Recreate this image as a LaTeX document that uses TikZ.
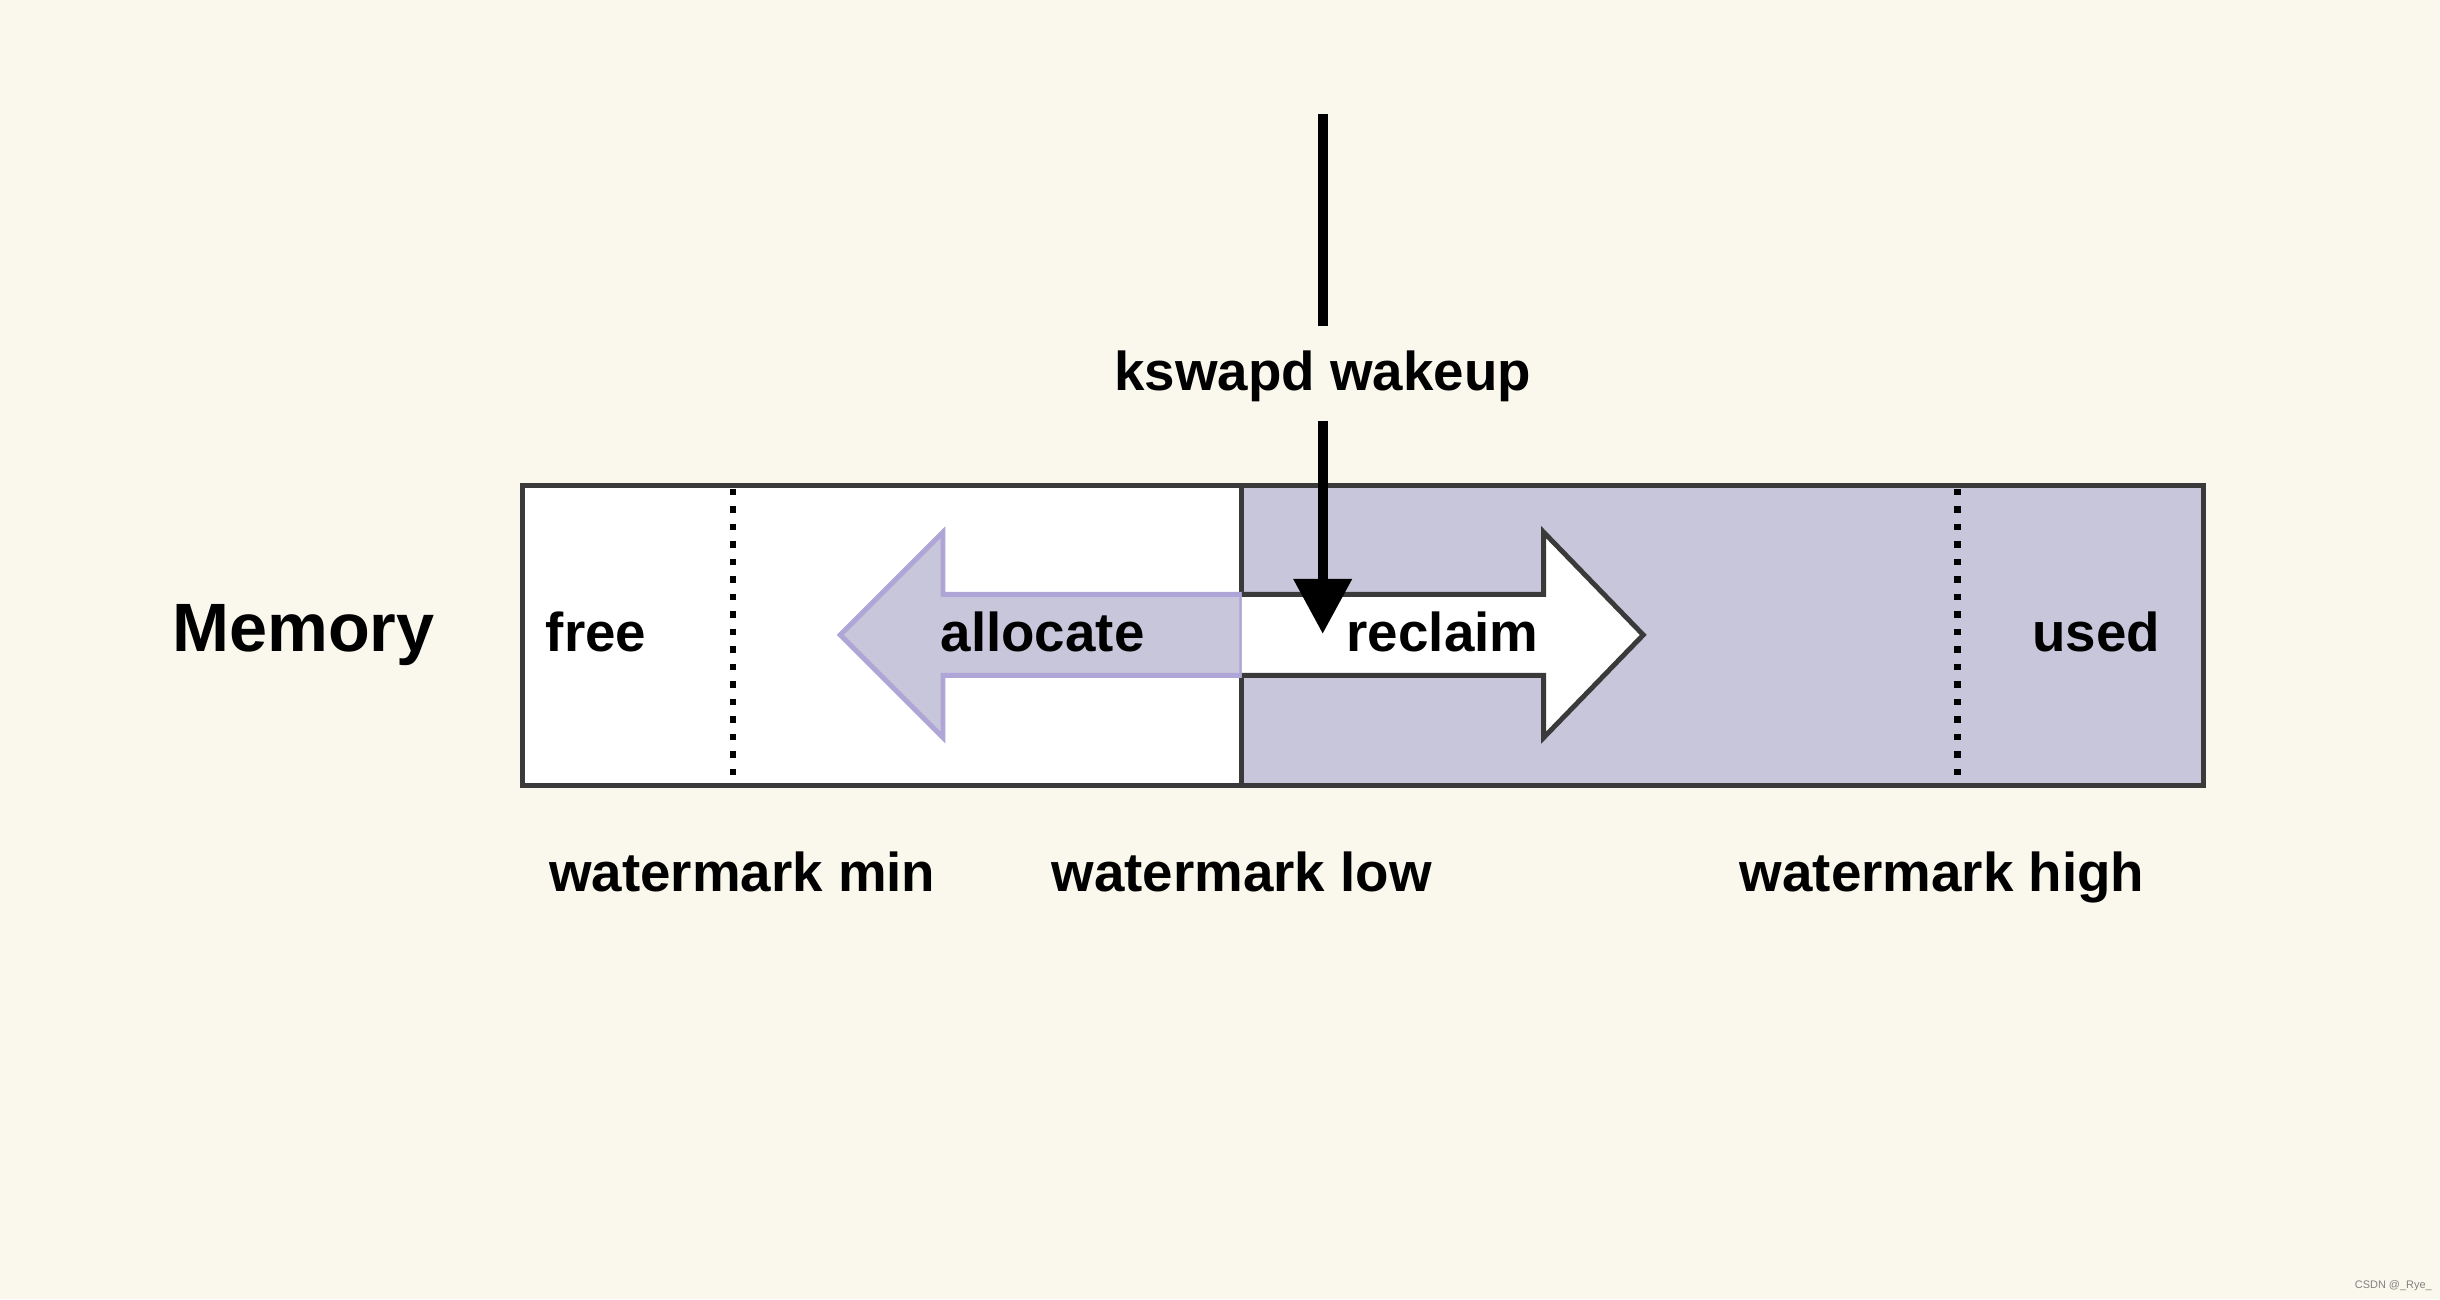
\documentclass[tikz,border=0pt]{standalone}
\usepackage{fontspec}
\setmainfont{Liberation Sans}
\usetikzlibrary{positioning}
\definecolor{bgcream}{HTML}{FAF8EC}
\definecolor{usedfill}{HTML}{C8C6DA}
\definecolor{lavender}{HTML}{AFA5D6}
\definecolor{boxline}{HTML}{3A3A3A}
\tikzset{
  x = 0.01cm,
  y = -0.01cm,
  txt/.style = {font=\fontsize{10}{11}\selectfont\bfseries, inner sep=1pt,
    text height=1.6ex, text depth=0.45ex},
  wmline/.style = {line width=1.2pt, dotted, black},
  frame/.style = {line width=0.9pt, draw=boxline},
}

\begin{document}
\begin{tikzpicture}
    \fill [bgcream] (0,0) rectangle (1568,835);
    \useasboundingbox (0,0) rectangle (1568,835);
    \fill [white] (336,312) rectangle (798,505);
    \fill [usedfill] (798,312) rectangle (1416,505);
    \draw [wmline] (471,314) -- (471,503);
    \draw [wmline] (1258,314) -- (1258,503);
    \draw [frame] (798,312) -- (798,505);
    \draw [frame] (336,312) rectangle (1416,505);
    \draw [line width=0.9pt, draw=lavender, fill=usedfill]
      (798,382) -- (606,382) -- (606,342) -- (540,408) -- (606,474)
      -- (606,434) -- (798,434) -- cycle;
    \draw [frame, fill=white]
      (798,382) -- (992,382) -- (992,342) -- (1056,408) -- (992,474)
      -- (992,434) -- (798,434);
    \node [txt, font=\fontsize{12.5}{14}\selectfont\bfseries] (memory) at (195,408) {Memory};
    \node [txt] (free) at (383,408) {free};
    \node [txt] (alloc) at (670,408) {allocate};
    \node [txt] (reclaim) at (927,408) {reclaim};
    \node [txt] (used) at (1347,408) {used};
    \node [txt] (wmin) at (477,562) {watermark min};
    \node [txt] (wlow) at (798,562) {watermark low};
    \node [txt] (whigh) at (1248,562) {watermark high};
    \coordinate (top) at (850,73);
    \coordinate (hit) at (850,407);
    \node [txt, fill=bgcream, inner sep=3pt] (kswapd) at (850,240) {kswapd wakeup};
    \draw [line width=1.8pt] (top) -- (kswapd.north);
    \draw [line width=1.8pt] (kswapd.south) -- (850,372);
    \fill (831,372) -- (869,372) -- (hit) -- cycle;
    \node [font=\fontsize{2}{2}\selectfont, text=gray] (credit) at (1538,826) {CSDN @\_Rye\_};
\end{tikzpicture}
\end{document}
